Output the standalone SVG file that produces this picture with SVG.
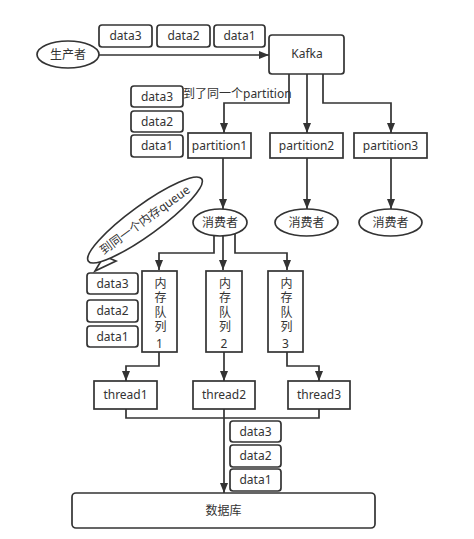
<svg xmlns="http://www.w3.org/2000/svg" width="474" height="539" viewBox="0 0 474 539">
<defs>
<marker id="arr" viewBox="0 0 10 8" markerWidth="10" markerHeight="8" refX="10" refY="4" orient="auto" markerUnits="userSpaceOnUse">
<path d="M0,0 L10,4 L0,8 z" fill="#333"/>
</marker>
<style>
.n{fill:#fff;stroke:#333;stroke-width:1.7}
.c{fill:none;stroke:#333;stroke-width:1.7}
.a{marker-end:url(#arr)}
text{font-family:"Noto Sans","Noto Sans CJK SC",sans-serif;font-size:12px;fill:#333;text-anchor:middle}
.lbl{text-anchor:start}
.v{writing-mode:vertical-rl;text-orientation:upright;letter-spacing:2.5px;text-anchor:start}
</style>
</defs>
<rect width="474" height="539" fill="#fff"/>
<g id="connectors">
<text class="lbl" x="183" y="98">到了同一个partition</text>
<path class="c a" d="M99,55 H269"/>
<path class="c a" d="M289,74 V103 H224 V133"/>
<path class="c a" d="M307,74 V133"/>
<path class="c a" d="M323,74 V103 H391 V133"/>
<path class="c a" d="M223,158 V209"/>
<path class="c a" d="M307,158 V209"/>
<path class="c a" d="M391,158 V209"/>
<path class="c a" d="M214,230 V253 H159 V270"/>
<path class="c a" d="M223,236 V270"/>
<path class="c a" d="M235,230 V253 H287 V270"/>
<path class="c a" d="M159,352 V366 H126 V381"/>
<path class="c a" d="M224,352 V381"/>
<path class="c a" d="M287,352 V366 H319 V381"/>
<path class="c" d="M126,409 V418 H319 V409"/>
<path class="c a" d="M224,409 V493"/>
</g>
<g id="producer"><ellipse class="n" cx="68" cy="54.5" rx="31" ry="13.5"/><text x="68" y="59">生产者</text></g>
<g id="kafka"><rect class="n" x="269" y="35" width="75" height="39" rx="3"/><text x="307" y="58">Kafka</text></g>
<g id="top-data3"><rect class="n" x="99" y="25" width="53" height="22" rx="3"/><text x="125.5" y="40">data3</text></g>
<g id="top-data2"><rect class="n" x="157" y="25" width="53" height="22" rx="3"/><text x="183.5" y="40">data2</text></g>
<g id="top-data1"><rect class="n" x="214" y="25" width="51" height="22" rx="3"/><text x="239.5" y="40">data1</text></g>
<g id="p-data3"><rect class="n" x="131" y="86" width="52" height="21" rx="3"/><text x="157" y="101">data3</text></g>
<g id="p-data2"><rect class="n" x="131" y="111" width="52" height="21" rx="3"/><text x="157" y="126">data2</text></g>
<g id="p-data1"><rect class="n" x="131" y="135" width="52" height="22" rx="3"/><text x="157" y="150">data1</text></g>
<g id="partition1"><rect class="n" x="188" y="133" width="63" height="25"/><text x="219.5" y="150">partition1</text></g>
<g id="partition2"><rect class="n" x="270" y="133" width="73" height="25"/><text x="306.5" y="150">partition2</text></g>
<g id="partition3"><rect class="n" x="354" y="133" width="73" height="25"/><text x="390.5" y="150">partition3</text></g>
<g id="consumer1"><ellipse class="n" cx="220" cy="222.5" rx="27" ry="13.5"/><text x="220" y="227">消费者</text></g>
<g id="consumer2"><ellipse class="n" cx="306.5" cy="222.5" rx="31.5" ry="13.5"/><text x="306.5" y="227">消费者</text></g>
<g id="consumer3"><ellipse class="n" cx="390.5" cy="222.5" rx="31.5" ry="13.5"/><text x="390.5" y="227">消费者</text></g>
<g id="callout">
<path class="n" d="M104,256 L95,271 L116,261 z"/>
<ellipse class="n" cx="145" cy="220" rx="70" ry="15" transform="rotate(-36 145 220)"/>
<text x="145" y="224" transform="rotate(-36 145 220)">到同一个内存queue</text>
</g>
<g id="q-data3"><rect class="n" x="87" y="273" width="51" height="21" rx="3"/><text x="112.5" y="288">data3</text></g>
<g id="q-data2"><rect class="n" x="87" y="300" width="51" height="22" rx="3"/><text x="112.5" y="315">data2</text></g>
<g id="q-data1"><rect class="n" x="87" y="326" width="51" height="21" rx="3"/><text x="112.5" y="341">data1</text></g>
<g id="queue1"><rect class="n" x="142" y="271" width="35" height="81"/><text class="v" x="159.5" y="277">内存队列1</text></g>
<g id="queue2"><rect class="n" x="206" y="271" width="36" height="81"/><text class="v" x="224" y="277">内存队列2</text></g>
<g id="queue3"><rect class="n" x="268" y="271" width="35" height="81"/><text class="v" x="285.5" y="277">内存队列3</text></g>
<g id="thread1"><rect class="n" x="94" y="381" width="63" height="28"/><text x="125.5" y="399">thread1</text></g>
<g id="thread2"><rect class="n" x="193" y="381" width="62" height="28"/><text x="224" y="399">thread2</text></g>
<g id="thread3"><rect class="n" x="288" y="381" width="62" height="28"/><text x="319" y="399">thread3</text></g>
<g id="d-data3"><rect class="n" x="230" y="421" width="51" height="21" rx="3"/><text x="255.5" y="436">data3</text></g>
<g id="d-data2"><rect class="n" x="230" y="445" width="51" height="22" rx="3"/><text x="255.5" y="460">data2</text></g>
<g id="d-data1"><rect class="n" x="230" y="469" width="51" height="22" rx="3"/><text x="255.5" y="484">data1</text></g>
<g id="database"><rect class="n" x="72" y="493" width="303" height="35" rx="4"/><text x="223.5" y="515">数据库</text></g>
</svg>
